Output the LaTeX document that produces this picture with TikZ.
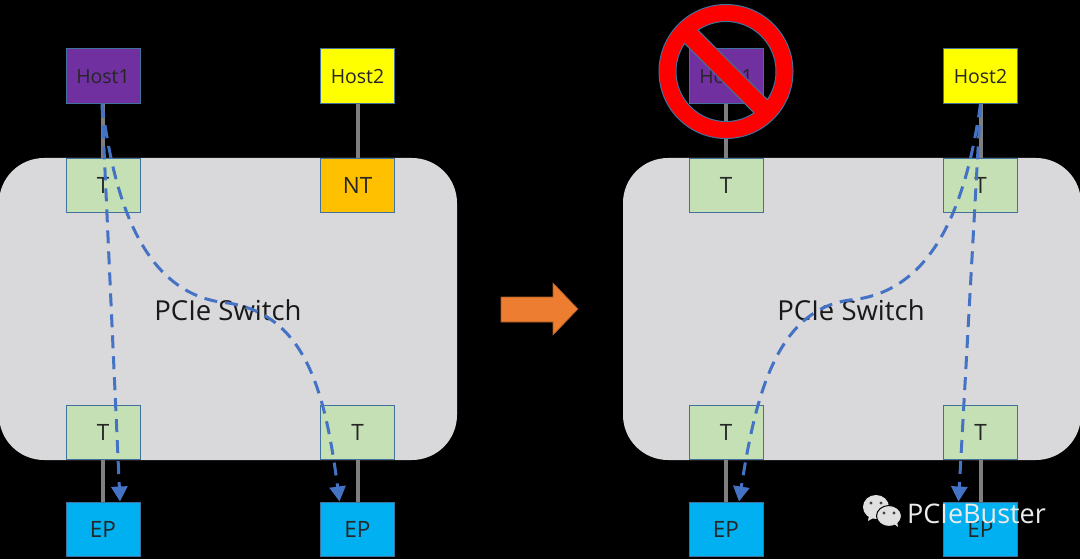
\documentclass[tikz,border=0pt]{standalone}
\usepackage{fontspec}
\setmainfont{Open Sans}
\newfontfamily\markfont{Open Sans}
\usetikzlibrary{arrows.meta}
\definecolor{hostpurple}{HTML}{7030A0}
\definecolor{hostyellow}{HTML}{FFFF00}
\definecolor{tgreen}{HTML}{C5E0B4}
\definecolor{ntorange}{HTML}{FFC000}
\definecolor{epblue}{HTML}{00B0F0}
\definecolor{edgeblue}{HTML}{41719C}
\definecolor{flowblue}{HTML}{4472C4}
\definecolor{swgrey}{HTML}{D9D8DA}
\definecolor{linkgrey}{HTML}{7F7F7F}
\definecolor{arroworange}{HTML}{ED7D31}
\tikzset{
  portbox/.style={draw=edgeblue,line width=1pt,minimum width=74pt,minimum height=54pt,inner sep=0pt,font=\fontsize{22.5}{24}\selectfont,text=black!85},
  hostbox/.style={portbox,minimum height=55pt,font=\fontsize{19.5}{24}\selectfont},
  switchbox/.style={fill=swgrey,rounded corners=45pt,minimum width=458pt,minimum height=302pt,inner sep=0pt},
  switchlabel/.style={font=\fontsize{27.5}{32}\selectfont,text=black!90,inner sep=0pt},
  link/.style={draw=linkgrey,line width=4pt},
  flow/.style={draw=flowblue,line width=3pt,dash pattern=on 13pt off 8pt,-{Triangle[length=15pt,width=16pt]}},
}
\begin{document}
\begin{tikzpicture}[x=1pt,y=-1pt]
\useasboundingbox[fill=black] (0,0) rectangle (1080,559);
% switch bodies
\node[switchbox] (swl) at (228,309) {};
\node[switchbox] (swr) at (852,309) {};
\foreach \ox/\sw in {0/l,623/r}{
  \node[hostbox,fill=hostpurple] (h1\sw) at ({103+\ox},76.5) {Host1};
  \node[hostbox,fill=hostyellow] (h2\sw) at ({357.5+\ox},76.5) {Host2};
  \node[portbox,fill=tgreen] (tb\sw) at ({103+\ox},432) {T};
  \node[portbox,fill=tgreen] (tc\sw) at ({357.5+\ox},432) {T};
  \node[portbox,fill=epblue] (e1\sw) at ({103+\ox},529) {EP};
  \node[portbox,fill=epblue] (e2\sw) at ({357.5+\ox},529) {EP};
  \node[portbox,fill=tgreen] (t1\sw) at ({103+\ox},185.5) {T};
  \draw[link] (h1\sw) -- (t1\sw);
  \draw[link] (tb\sw) -- (e1\sw);
  \draw[link] (tc\sw) -- (e2\sw);
}
\node[portbox,fill=ntorange] (ntl) at (357.5,185.5) {NT};
\node[portbox,fill=tgreen] (t2r) at (980.5,185.5) {T};
\draw[link] (h2l) -- (ntl);
\draw[link] (h2r) -- (t2r);
\node[switchlabel] (labl) at (228,310) {PCIe Switch};
\node[switchlabel] (labr) at (851,310) {PCIe Switch};
% flows, left
\draw[flow] ([xshift=-1pt]h1l.south) -- ([xshift=17pt]e1l.north);
\draw[flow] ([xshift=-1pt]h1l.south) .. controls (112,180) and (135,295) .. (228,303)
   .. controls (305,315) and (325,390) .. ([xshift=-18pt]e2l.north);
% flows, right
\draw[flow] (h2r.south) -- ([xshift=-22pt]e2r.north);
\draw[flow] (h2r.south) .. controls (968,190) and (940,292) .. (850,300)
   .. controls (775,310) and (755,400) .. ([xshift=13pt]e1r.north);
% arrow between the panels
\fill[arroworange,draw=arroworange!70!black,line width=0.6pt] (501,297) -- (553,297) -- (553,283) -- (578,309) -- (553,335) -- (553,322) -- (501,322) -- cycle;
% prohibition sign
\begin{scope}[shift={(726,71.5)},x=1pt,y=1pt,rotate=-45]
\path[fill=red,draw=edgeblue,line width=1pt,even odd rule]
  (0,0) circle[radius=67]
  (-49.1,9.5) arc[start angle=169.05,end angle=10.95,radius=50] -- cycle
  (49.1,-9.5) arc[start angle=-10.95,end angle=-169.05,radius=50] -- cycle;
\end{scope}
% watermark
\fill[white!88!black] (876,507) ellipse[x radius=13,y radius=12];
\fill[white!88!black] (869,515) -- (868,521) -- (875,517) -- cycle;
\fill[white!88!black,draw=black,line width=1pt] (889,516) ellipse[x radius=12.5,y radius=10.5];
\fill[white!88!black] (894,524) -- (898,527) -- (897,521) -- cycle;
\foreach \ex/\ey in {871/503,881/503,884/513,894/513}{\fill[black!75] (\ex,\ey) circle[radius=1.6];}
\node[font=\markfont\fontsize{27}{30}\selectfont,text=white!92!black,anchor=base west,inner sep=0pt] (mark) at (907,523) {PCIeBuster};
\end{tikzpicture}
\end{document}
